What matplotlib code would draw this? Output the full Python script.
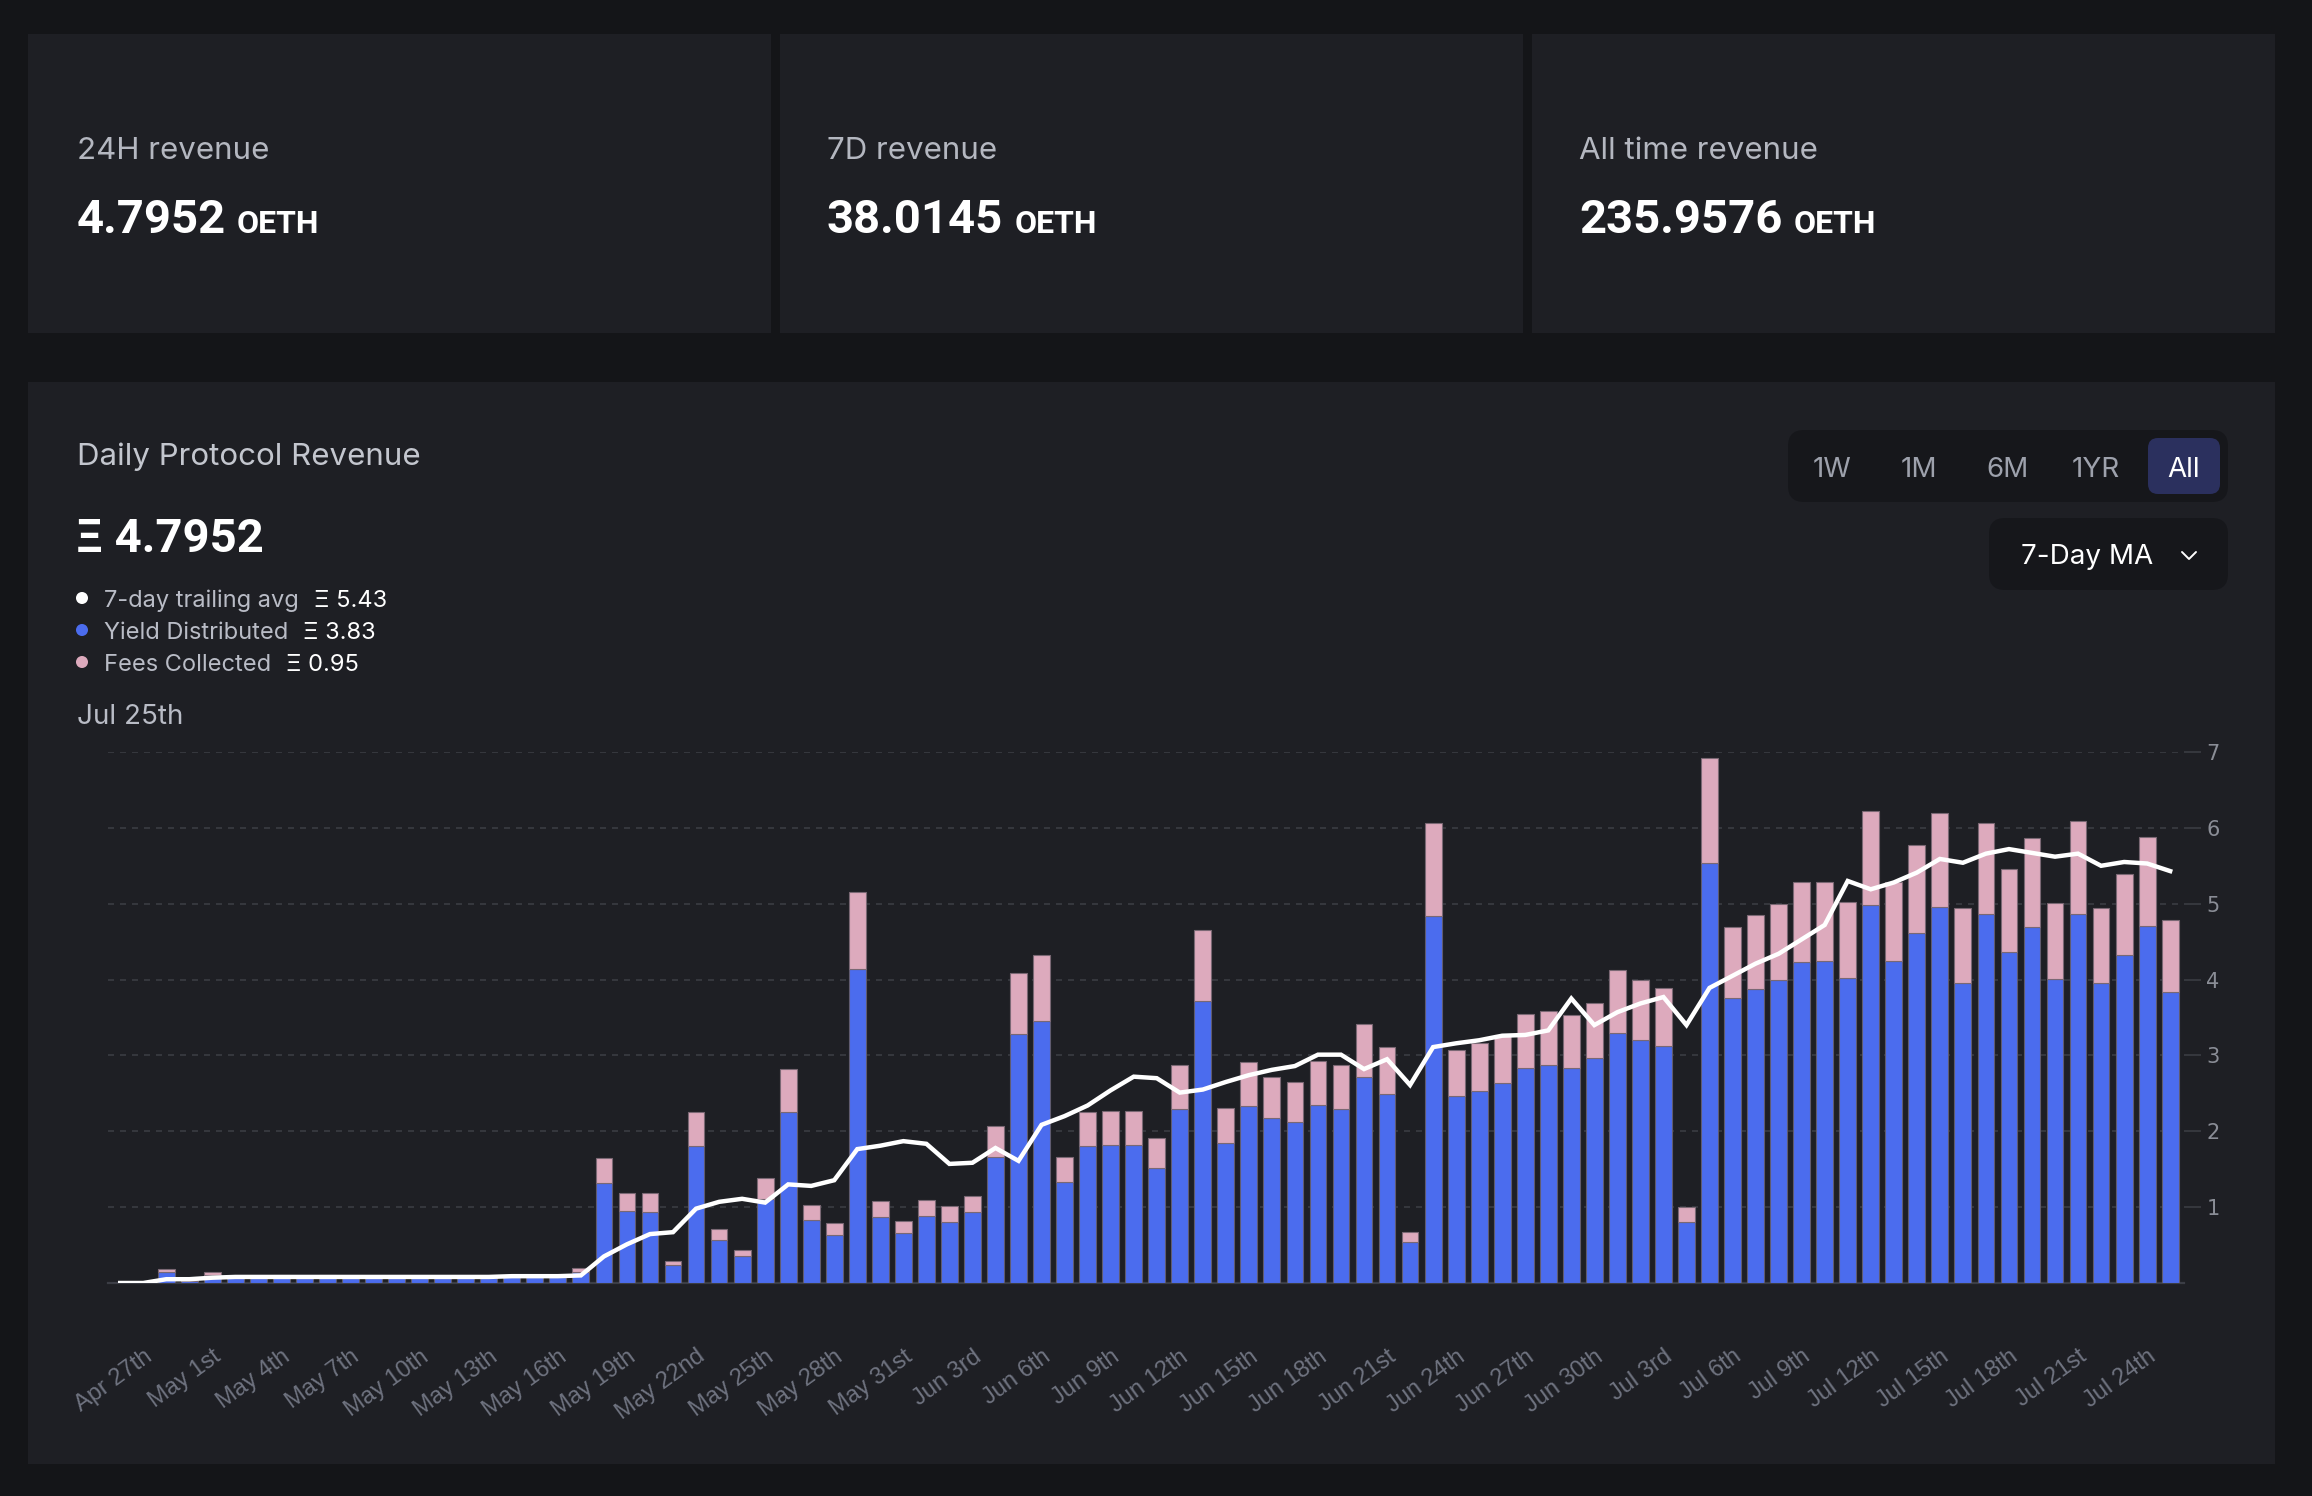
import matplotlib
matplotlib.use("Agg")
import matplotlib.pyplot as plt
from matplotlib.patches import Rectangle, FancyBboxPatch
import numpy as np

# ---------------- data ----------------
yield_distributed = [0, 0.01, 0.14, 0.03, 0.11, 0.07, 0.07, 0.08, 0.07, 0.08,
                     0.07, 0.07, 0.07, 0.07, 0.07, 0.07, 0.07, 0.08, 0.08, 0.08,
                     0.15, 1.32, 0.95, 0.94, 0.24, 1.80, 0.57, 0.35, 1.11, 2.26,
                     0.83, 0.63, 4.14, 0.87, 0.66, 0.88, 0.81, 0.93, 1.66, 3.28,
                     3.46, 1.33, 1.81, 1.82, 1.82, 1.52, 2.29, 3.72, 1.85, 2.33,
                     2.17, 2.12, 2.34, 2.30, 2.72, 2.49, 0.54, 4.84, 2.46, 2.53,
                     2.63, 2.83, 2.87, 2.83, 2.96, 3.30, 3.20, 3.12, 0.80, 5.54,
                     3.76, 3.88, 4.00, 4.23, 4.24, 4.02, 4.98, 4.24, 4.62, 4.96,
                     3.96, 4.86, 4.37, 4.69, 4.01, 4.87, 3.96, 4.32, 4.71, 3.83]
fees_collected = [0, 0, 0.04, 0.01, 0.03, 0.01, 0.01, 0.03, 0.01, 0.03,
                  0.01, 0.02, 0.01, 0.01, 0.02, 0.01, 0.01, 0.03, 0.03, 0.03,
                  0.05, 0.33, 0.24, 0.24, 0.05, 0.45, 0.14, 0.09, 0.27, 0.56,
                  0.20, 0.16, 1.02, 0.21, 0.16, 0.22, 0.21, 0.22, 0.41, 0.81,
                  0.87, 0.33, 0.45, 0.45, 0.45, 0.39, 0.58, 0.93, 0.46, 0.58,
                  0.54, 0.53, 0.58, 0.57, 0.69, 0.62, 0.13, 1.22, 0.61, 0.64,
                  0.64, 0.71, 0.72, 0.70, 0.73, 0.83, 0.80, 0.77, 0.20, 1.38,
                  0.93, 0.97, 0.99, 1.05, 1.05, 1.00, 1.24, 1.05, 1.16, 1.24,
                  0.99, 1.21, 1.09, 1.17, 1.00, 1.22, 0.99, 1.07, 1.17, 0.96]
ma_7day = [0.0, 0.0, 0.05, 0.05, 0.07, 0.08, 0.08, 0.08, 0.08, 0.08,
           0.08, 0.08, 0.08, 0.08, 0.08, 0.08, 0.08, 0.09, 0.09, 0.09,
           0.10, 0.35, 0.51, 0.645, 0.67, 0.98, 1.07, 1.11, 1.06, 1.30,
           1.28, 1.355, 1.765, 1.81, 1.87, 1.835, 1.57, 1.585, 1.78, 1.61,
           2.085, 2.20, 2.34, 2.54, 2.72, 2.70, 2.51, 2.55, 2.65, 2.74,
           2.81, 2.86, 3.01, 3.01, 2.82, 2.95, 2.61, 3.11, 3.16, 3.20,
           3.26, 3.27, 3.33, 3.75, 3.40, 3.57, 3.685, 3.77, 3.40, 3.89,
           4.05, 4.21, 4.34, 4.53, 4.72, 5.30, 5.19, 5.28, 5.41, 5.59,
           5.54, 5.66, 5.72, 5.67, 5.62, 5.66, 5.50, 5.55, 5.53, 5.43]
tick_labels = ["Apr 27th", "May 1st", "May 4th", "May 7th", "May 10th", "May 13th",
               "May 16th", "May 19th", "May 22nd", "May 25th", "May 28th", "May 31st",
               "Jun 3rd", "Jun 6th", "Jun 9th", "Jun 12th", "Jun 15th", "Jun 18th",
               "Jun 21st", "Jun 24th", "Jun 27th", "Jun 30th", "Jul 3rd", "Jul 6th",
               "Jul 9th", "Jul 12th", "Jul 15th", "Jul 18th", "Jul 21st", "Jul 24th"]
tick_positions = list(range(1, 90, 3))
y_ticks = [1, 2, 3, 4, 5, 6, 7]

cards = [("24H revenue", "4.7952"), ("7D revenue", "38.0145"), ("All time revenue", "235.9576")]
unit = "OETH"
headline = "Ξ 4.7952"
legend_rows = [("7-day trailing avg", "Ξ 5.43", "#FFFFFF"),
               ("Yield Distributed", "Ξ 3.83", "#4B6CEE"),
               ("Fees Collected", "Ξ 0.95", "#DDAABD")]
date_label = "Jul 25th"
range_buttons = ["1W", "1M", "6M", "1YR", "All"]

# ---------------- style ----------------
OUTER = "#141518"
CARD = "#1E1F24"
BLUE = "#4B6CEE"
PINK = "#DDAABD"
FONT = ["Inter", "DejaVu Sans"]

W, H = 2312, 1496
fig = plt.figure(figsize=(W / 100, H / 100), dpi=100, facecolor=OUTER)
bg = fig.add_axes([0, 0, 1, 1], zorder=0)
bg.set_xlim(0, W)
bg.set_ylim(H, 0)
bg.axis("off")
bg.set_facecolor(OUTER)

# cards
for x0, x1 in [(28, 771), (780, 1523), (1532, 2275)]:
    bg.add_patch(Rectangle((x0, 34), x1 - x0, 299, facecolor=CARD, edgecolor="none"))
bg.add_patch(Rectangle((28, 382), 2275 - 28, 1464 - 382, facecolor=CARD, edgecolor="none"))

renderer = fig.canvas.get_renderer()

for (title, val), tx in zip(cards, [77, 827, 1579]):
    bg.text(tx, 159, title, color="#B4B7C0", fontsize=22.5, family=FONT, va="baseline", ha="left")
    t = bg.text(tx, 233, val, color="white", fontsize=34, family=["Roboto", "DejaVu Sans"],
                fontweight="bold", va="baseline", ha="left")
    bb = t.get_window_extent(renderer)
    bg.text(bb.x1 + 11, 233, unit, color="white", fontsize=23, family=["Roboto", "DejaVu Sans"],
            fontweight="bold", va="baseline", ha="left")

bg.text(77, 465, "Daily Protocol Revenue", color="#C3C6CE", fontsize=22.5, family=FONT,
        va="baseline", ha="left")
bg.text(76, 552, headline, color="white", fontsize=34, family=["Roboto", "DejaVu Sans"],
        fontweight="bold", va="baseline", ha="left")

for k, (lab, val, col) in enumerate(legend_rows):
    yb = 607 + 32 * k
    bg.scatter([82], [yb - 9], s=75, color=col, edgecolors="none", zorder=3)
    t = bg.text(104, yb, lab, color="#B9BCC6", fontsize=17, family=FONT, va="baseline", ha="left")
    bb = t.get_window_extent(renderer)
    bg.text(bb.x1 + 15, yb, val, color="white", fontsize=17, family=FONT, va="baseline", ha="left")

bg.text(77, 724, date_label, color="#B9BCC6", fontsize=20, family=FONT, va="baseline", ha="left")

# range buttons
bg.add_patch(FancyBboxPatch((1788, 430), 440, 72, boxstyle="round,pad=0,rounding_size=16",
                            facecolor="#16171B", edgecolor="none"))
bg.add_patch(FancyBboxPatch((2148, 438), 72, 56, boxstyle="round,pad=0,rounding_size=10",
                            facecolor="#2B305E", edgecolor="none"))
for lab, cx in zip(range_buttons, [1832, 1919, 2008, 2096, 2184]):
    bg.text(cx, 470, lab, color="white" if lab == "All" else "#9DA1AC", fontsize=20,
            family=FONT, va="center", ha="center")

bg.add_patch(FancyBboxPatch((1989, 518), 239, 72, boxstyle="round,pad=0,rounding_size=16",
                            facecolor="#16171B", edgecolor="none"))
bg.text(2087, 557, "7-Day MA", color="white", fontsize=20, family=FONT, va="center", ha="center")
bg.plot([2182, 2189, 2196], [552, 559, 552], color="white", lw=1.4, solid_capstyle="round")

# ---------------- chart ----------------
ax_l, ax_r, ax_t, ax_b = 108, 2184, 752, 1283
ax = fig.add_axes([ax_l / W, (H - ax_b) / H, (ax_r - ax_l) / W, (ax_b - ax_t) / H], zorder=2)
ax.set_facecolor("none")
x = np.arange(len(yield_distributed))
ax.bar(x, yield_distributed, width=0.73, color=BLUE, edgecolor="#5F5B70", linewidth=0.8, zorder=3)
ax.bar(x, fees_collected, bottom=yield_distributed, width=0.73, color=PINK,
       edgecolor="#7A6874", linewidth=0.8, zorder=3)
ax.plot(x, ma_7day, color="white", lw=3.2, zorder=5, solid_joinstyle="miter")

ax.set_xlim(-0.53, 89.6)
ax.set_ylim(0, 7)
ax.set_yticks(y_ticks)
ax.set_yticklabels([str(v) for v in y_ticks])
ax.yaxis.tick_right()
ax.tick_params(axis="y", colors="#3A3C43", length=12, width=1.2, pad=4, labelsize=15,
               labelcolor="#8A8D96")
ax.grid(axis="y", color="#3A3C43", linestyle=(0, (3.6, 3.6)), linewidth=1.2, zorder=0)
ax.set_xticks(tick_positions)
ax.set_xticklabels(tick_labels, rotation=36, ha="right", va="top", rotation_mode="anchor",
                   fontsize=17, color="#6F7380", family=["Liberation Sans", "DejaVu Sans"])
ax.tick_params(axis="x", length=0, pad=45)
for s in ["top", "left", "right"]:
    ax.spines[s].set_visible(False)
ax.spines["bottom"].set_color("#3B3D45")
ax.spines["bottom"].set_linewidth(1.6)

fig.savefig("out.png", dpi=100, facecolor=OUTER)
